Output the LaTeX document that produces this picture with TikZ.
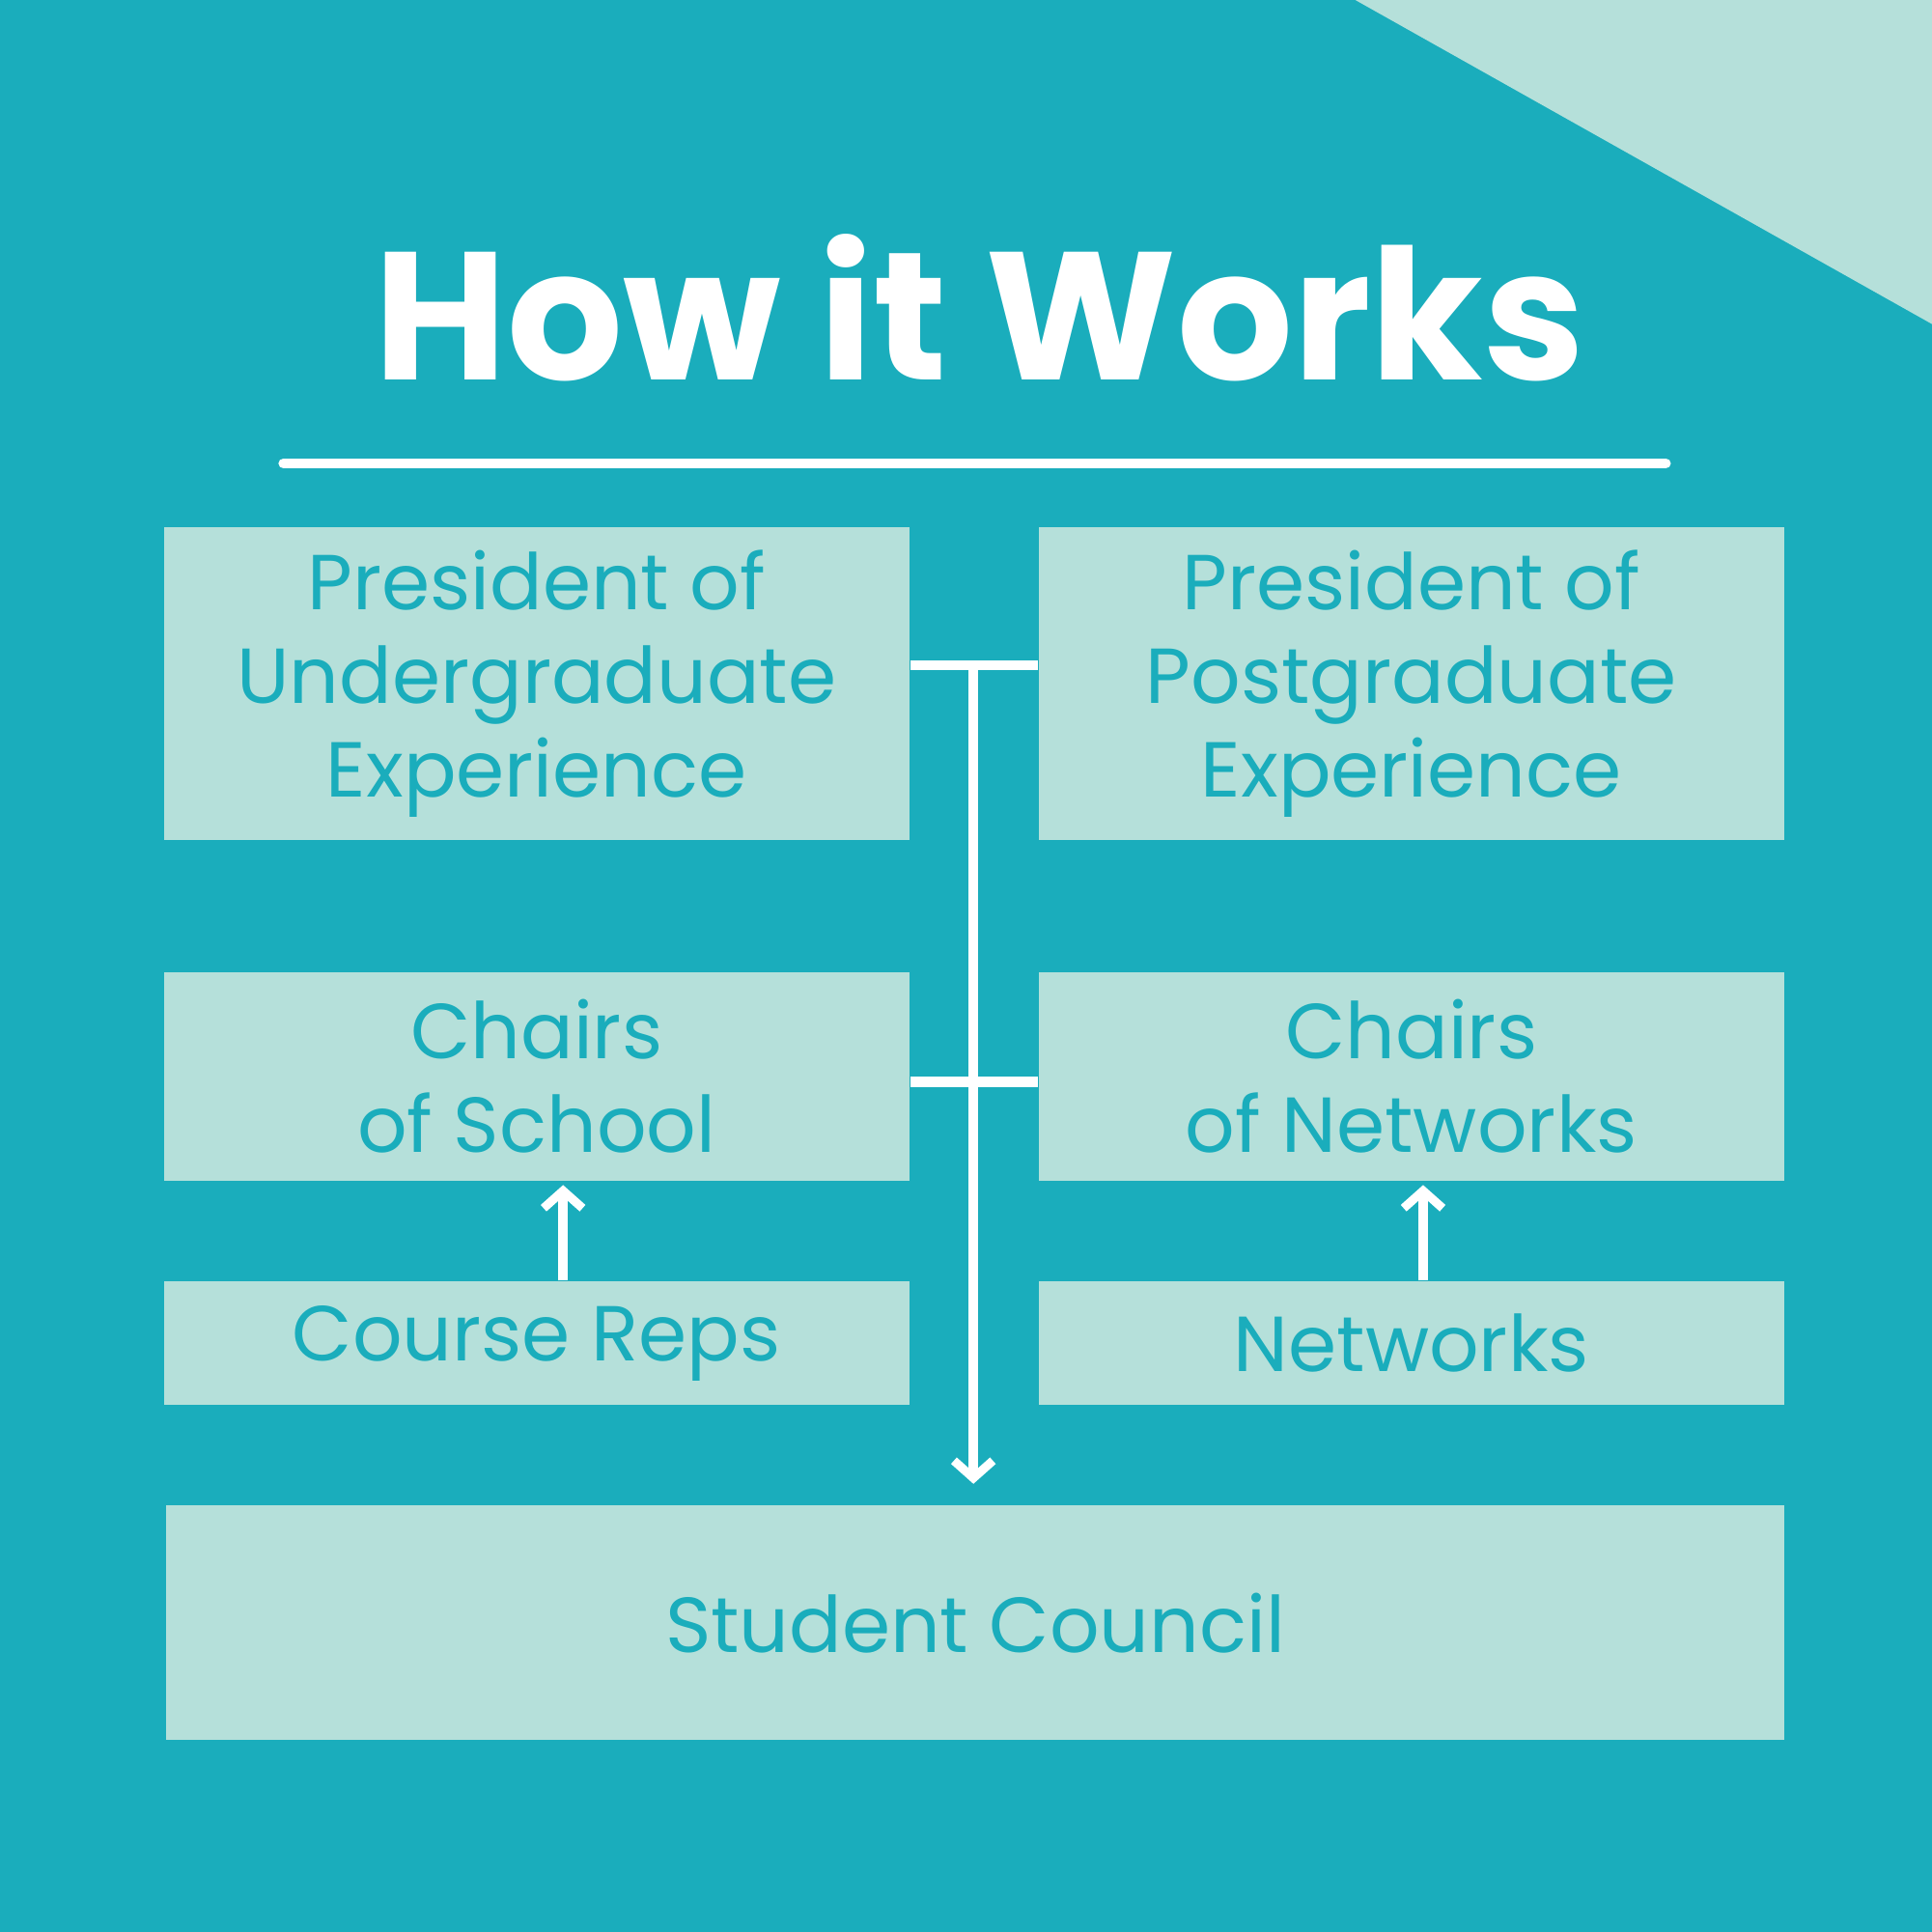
\documentclass[tikz,border=0pt]{standalone}
\usepackage{fontspec}
\setmainfont{Poppins}
\usetikzlibrary{arrows.meta}
\definecolor{teal}{HTML}{1AADBC}
\definecolor{pale}{HTML}{B5E0DA}
\begin{document}
\begin{tikzpicture}[x=0.01cm,y=-0.01cm,
	box/.style={fill=pale,text=teal,font=\fontsize{18}{21.6}\selectfont,align=center,inner sep=0pt},
	link/.style={draw=white,line width=2.3pt},
	>={Straight Barb[length=4pt,width=9pt,line width=2pt]}]
		\fill[teal] (0,0) rectangle (1568,1568);
		\useasboundingbox (0,0) rectangle (1568,1568);
		\fill[pale] (1100,0) -- (1568,0) -- (1568,263) -- cycle;

		\node[text=white,font=\fontsize{42}{50}\bfseries\selectfont] (title) at (795,250) {How it Works};
		\draw[white,line width=2.3pt,line cap=round] (230,376) -- (1352,376);

		\begin{scope}[every node/.style={box,minimum width=6.05cm}]
			\node[minimum height=2.54cm] (ug) at (435.5,555) {President of\\Undergraduate\\Experience};
			\node[minimum height=2.54cm] (pg) at (1145.5,555) {President of\\Postgraduate\\Experience};
			\node[minimum height=1.69cm] (cs) at (435.5,873.5) {Chairs\\of School};
			\node[minimum height=1.69cm] (cn) at (1145.5,873.5) {Chairs\\of Networks};
			\node[minimum height=1cm] (cr) at (435.5,1090) {Course Reps};
			\node[minimum height=1cm] (nw) at (1145.5,1090) {Networks};
			\node[minimum width=13.13cm,minimum height=1.9cm] (sc) at (791.5,1317) {Student Council};
		\end{scope}

		\coordinate (j1) at (790,540);
		\coordinate (j2) at (790,878);

		\draw[link] (ug.east |- j1) -- (pg.west |- j1);
		\draw[link] (cs.east |- j2) -- (cn.west |- j2);
		\draw[link,->,shorten >=17\pgflinewidth*0+0.17cm] (j1) -- (j1 |- sc.north);
		\draw[link,->,shorten >=0.03cm] (cr.north -| 457,0) -- (cs.south -| 457,0);
		\draw[link,->,shorten >=0.03cm] (nw.north -| 1155,0) -- (cn.south -| 1155,0);
\end{tikzpicture}
\end{document}
